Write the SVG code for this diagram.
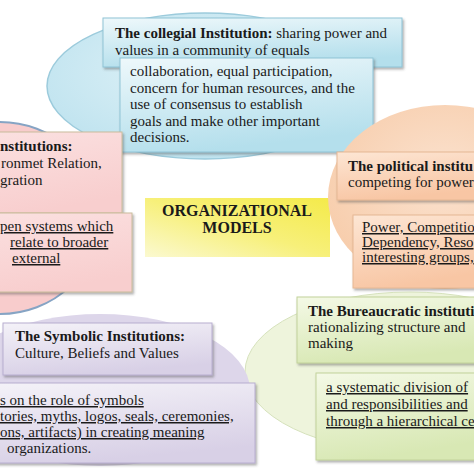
<svg xmlns="http://www.w3.org/2000/svg" width="474" height="474" viewBox="0 0 474 474">
<defs>
<filter id="sh" x="-10%" y="-10%" width="125%" height="130%">
<feDropShadow dx="1.5" dy="2" stdDeviation="1.2" flood-color="#555" flood-opacity="0.45"/>
</filter>
<linearGradient id="gBlue" x1="0" y1="0" x2="0.3" y2="1">
<stop offset="0" stop-color="#eef8fb"/><stop offset="1" stop-color="#b4dfec"/>
</linearGradient>
<linearGradient id="gPink" x1="0" y1="0" x2="0.3" y2="1">
<stop offset="0" stop-color="#fbe0e0"/><stop offset="1" stop-color="#f8cece"/>
</linearGradient>
<linearGradient id="gOrange" x1="0" y1="0" x2="0.3" y2="1">
<stop offset="0" stop-color="#fde6d4"/><stop offset="1" stop-color="#f8c6a4"/>
</linearGradient>
<linearGradient id="gGreen" x1="0" y1="0" x2="0.3" y2="1">
<stop offset="0" stop-color="#f4f9e6"/><stop offset="1" stop-color="#d8e8b4"/>
</linearGradient>
<linearGradient id="gPurple" x1="0" y1="0" x2="0.3" y2="1">
<stop offset="0" stop-color="#f4f2f8"/><stop offset="1" stop-color="#d8d0e6"/>
</linearGradient>
<linearGradient id="gYellow" x1="0" y1="1" x2="1" y2="0">
<stop offset="0" stop-color="#fbf9d0"/><stop offset="0.5" stop-color="#f7f07a"/><stop offset="1" stop-color="#f4ea4a"/>
</linearGradient>
<radialGradient id="eBlue" cx="0.5" cy="0.4" r="0.6">
<stop offset="0" stop-color="#e2f3f8"/><stop offset="1" stop-color="#bfe3ef"/>
</radialGradient>
<radialGradient id="eOrange" cx="0.5" cy="0.4" r="0.6">
<stop offset="0" stop-color="#fbe2cf"/><stop offset="1" stop-color="#f7ccaa"/>
</radialGradient>
</defs>
<style>
text{font-family:"Liberation Serif","Times New Roman",serif;font-size:15px;fill:#1a1a1a}
.b{font-weight:bold}
.u{text-decoration:underline}
.t{font-size:16px;font-weight:bold}
.box{stroke-width:1}
.bl{fill:url(#gBlue);stroke:#8fc3d6}
.pk{fill:url(#gPink);stroke:#c9bc9c}
.or{fill:url(#gOrange);stroke:#e6b894}
.gr{fill:url(#gGreen);stroke:#c2d29a}
.pu{fill:url(#gPurple);stroke:#b8aed0}
</style>
<rect width="474" height="474" fill="#ffffff"/>

<g id="collegial">
<ellipse cx="205" cy="86" rx="158" ry="73" fill="url(#eBlue)" stroke="#9ccbdc" stroke-width="1.5"/>
<rect class="box bl" x="103" y="18" width="299" height="49" filter="url(#sh)"/>
<text x="115" y="38"><tspan class="b">The collegial Institution:</tspan> sharing power and</text>
<text x="115" y="55">values in a community of equals</text>
<rect class="box bl" x="120" y="58" width="253" height="94" filter="url(#sh)"/>
<text x="130" y="76">collaboration, equal participation,</text>
<text x="130" y="92.5">concern for human resources, and the</text>
<text x="130" y="109">use of consensus to establish</text>
<text x="130" y="125.5">goals and make other important</text>
<text x="130" y="142">decisions.</text>
</g>

<g id="open">
<ellipse cx="0" cy="218" rx="100" ry="96" fill="#f8cccc" stroke="#86a4c4" stroke-width="2"/>
<rect class="box pk" x="-5" y="132" width="127" height="81" filter="url(#sh)"/>
<text class="b" x="0" y="151">nstitutions:</text>
<text x="1" y="168">ronmet Relation,</text>
<text x="0" y="185">gration</text>
<rect class="box pk" x="-5" y="213" width="137" height="79" filter="url(#sh)"/>
<text class="u" x="0" y="231">pen systems which</text>
<text class="u" x="10" y="247">relate to broader</text>
<text class="u" x="12" y="263">external</text>
</g>

<g id="center">
<rect x="145" y="198" width="185" height="59" fill="url(#gYellow)"/>
<text class="t" x="237" y="216" text-anchor="middle">ORGANIZATIONAL</text>
<text class="t" x="237" y="233" text-anchor="middle">MODELS</text>
</g>

<g id="political">
<ellipse cx="445" cy="197" rx="117" ry="92" fill="url(#eOrange)"/>
<rect class="box or" x="337" y="152" width="142" height="48" filter="url(#sh)"/>
<text class="b" x="348" y="171">The political institu</text>
<text x="348" y="187">competing for power</text>
<rect class="box or" x="353" y="215" width="126" height="73" filter="url(#sh)"/>
<text class="u" x="362" y="232">Power, Competitio</text>
<text class="u" x="362" y="247">Dependency, Reso</text>
<text class="u" x="362" y="262">interesting groups,</text>
</g>

<g id="bureaucratic">
<ellipse cx="410" cy="372" rx="165" ry="80" fill="#eef4dc" stroke="#d6e2bc" stroke-width="1"/>
<rect class="box gr" x="297" y="297" width="182" height="66" filter="url(#sh)"/>
<text class="b" x="308" y="316">The Bureaucratic instituti</text>
<text x="308" y="332">rationalizing structure and</text>
<text x="308" y="348">making</text>
<rect class="box gr" x="316" y="373" width="163" height="87" filter="url(#sh)"/>
<text class="u" x="326" y="392">a systematic division of</text>
<text class="u" x="326" y="409">and responsibilities and</text>
<text class="u" x="326" y="426">through a hierarchical ce</text>
</g>

<g id="symbolic">
<ellipse cx="100" cy="390" rx="150" ry="76" fill="#ddd6ea"/>
<rect class="box pu" x="3" y="323" width="209" height="52" filter="url(#sh)"/>
<text class="b" x="15" y="341">The Symbolic Institutions:</text>
<text x="15" y="358">Culture, Beliefs and Values</text>
<rect class="box pu" x="-5" y="383" width="260" height="80" filter="url(#sh)"/>
<text class="u" x="0" y="405">s on the role of symbols</text>
<text class="u" x="0" y="421">tories, myths, logos, seals, ceremonies,</text>
<text class="u" x="0" y="437">ons, artifacts) in creating meaning</text>
<text x="7" y="453">organizations.</text>
</g>

<g id="connectors"/>
</svg>
